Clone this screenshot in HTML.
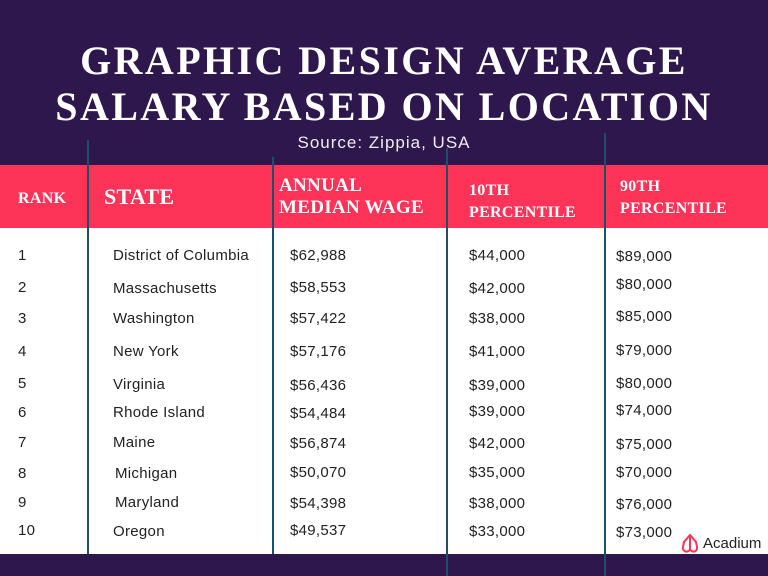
<!DOCTYPE html>
<html><head><style>
body{margin:0;width:768px;height:576px;overflow:hidden;background:#fff;position:relative;font-family:"Liberation Sans",sans-serif}
.a{position:absolute}
.t{color:#fff;font-family:"Liberation Serif",serif;font-weight:bold;font-size:40px;letter-spacing:2.4px;width:768px;text-align:center;white-space:nowrap}
.h{color:#fff;font-family:"Liberation Serif",serif;font-weight:bold;white-space:nowrap;letter-spacing:0.3px}
.c{font-size:15px;color:#222;letter-spacing:0.3px;white-space:nowrap}
.v{position:absolute;width:2px;background:#1d4f6b}
</style></head><body>
<div class="a" style="left:0;top:0;width:768px;height:165px;background:#2e174c"></div>
<div class="a" style="left:0;top:165px;width:768px;height:63px;background:#fe3358"></div>
<div class="a" style="left:0;top:554px;width:768px;height:22px;background:#2e174c"></div>
<div class="a t" style="top:37px">GRAPHIC DESIGN AVERAGE</div>
<div class="a t" style="top:83px">SALARY BASED ON LOCATION</div>
<div class="a" style="left:0;width:768px;text-align:center;top:133px;color:#eee;font-size:17px;letter-spacing:1px">Source: Zippia, USA</div>
<div class="v" style="left:87px;top:140px;height:414px"></div>
<div class="v" style="left:272px;top:157px;height:397px"></div>
<div class="v" style="left:446px;top:148px;height:428px"></div>
<div class="v" style="left:604px;top:133px;height:443px"></div>
<div class="a h" style="left:18px;top:190px;font-size:16px">RANK</div>
<div class="a h" style="left:104px;top:184px;font-size:22px">STATE</div>
<div class="a h" style="left:279px;top:175px;font-size:19px;line-height:22px">ANNUAL<br>MEDIAN WAGE</div>
<div class="a h" style="left:469px;top:180px;font-size:16px;line-height:22px">10TH<br>PERCENTILE</div>
<div class="a h" style="left:620px;top:176px;font-size:16px;line-height:22px">90TH<br>PERCENTILE</div>
<div class="a c" style="left:18px;top:247px">1</div><div class="a c" style="left:113px;top:247px">District of Columbia</div><div class="a c" style="left:290px;top:247px">$62,988</div><div class="a c" style="left:469px;top:247px">$44,000</div><div class="a c" style="left:616px;top:248px">$89,000</div>
<div class="a c" style="left:18px;top:279px">2</div><div class="a c" style="left:113px;top:280px">Massachusetts</div><div class="a c" style="left:290px;top:279px">$58,553</div><div class="a c" style="left:469px;top:280px">$42,000</div><div class="a c" style="left:616px;top:276px">$80,000</div>
<div class="a c" style="left:18px;top:310px">3</div><div class="a c" style="left:113px;top:310px">Washington</div><div class="a c" style="left:290px;top:310px">$57,422</div><div class="a c" style="left:469px;top:310px">$38,000</div><div class="a c" style="left:616px;top:308px">$85,000</div>
<div class="a c" style="left:18px;top:343px">4</div><div class="a c" style="left:113px;top:343px">New York</div><div class="a c" style="left:290px;top:343px">$57,176</div><div class="a c" style="left:469px;top:343px">$41,000</div><div class="a c" style="left:616px;top:342px">$79,000</div>
<div class="a c" style="left:18px;top:375px">5</div><div class="a c" style="left:113px;top:376px">Virginia</div><div class="a c" style="left:290px;top:377px">$56,436</div><div class="a c" style="left:469px;top:377px">$39,000</div><div class="a c" style="left:616px;top:375px">$80,000</div>
<div class="a c" style="left:18px;top:404px">6</div><div class="a c" style="left:113px;top:404px">Rhode Island</div><div class="a c" style="left:290px;top:405px">$54,484</div><div class="a c" style="left:469px;top:403px">$39,000</div><div class="a c" style="left:616px;top:402px">$74,000</div>
<div class="a c" style="left:18px;top:434px">7</div><div class="a c" style="left:113px;top:434px">Maine</div><div class="a c" style="left:290px;top:435px">$56,874</div><div class="a c" style="left:469px;top:435px">$42,000</div><div class="a c" style="left:616px;top:436px">$75,000</div>
<div class="a c" style="left:18px;top:465px">8</div><div class="a c" style="left:115px;top:465px">Michigan</div><div class="a c" style="left:290px;top:464px">$50,070</div><div class="a c" style="left:469px;top:464px">$35,000</div><div class="a c" style="left:616px;top:464px">$70,000</div>
<div class="a c" style="left:18px;top:494px">9</div><div class="a c" style="left:115px;top:494px">Maryland</div><div class="a c" style="left:290px;top:495px">$54,398</div><div class="a c" style="left:469px;top:495px">$38,000</div><div class="a c" style="left:616px;top:496px">$76,000</div>
<div class="a c" style="left:18px;top:522px">10</div><div class="a c" style="left:113px;top:523px">Oregon</div><div class="a c" style="left:290px;top:522px">$49,537</div><div class="a c" style="left:469px;top:523px">$33,000</div><div class="a c" style="left:616px;top:524px">$73,000</div>
<svg class="a" style="left:680px;top:533px" width="20" height="20" viewBox="0 0 20 20"><path d="M10 2 L16 9 L17 14 A3 3 0 0 1 10 16 A3 3 0 0 1 3 14 L4 9 Z M10 2 L10 16" fill="none" stroke="#fe3358" stroke-width="2"/></svg>
<div class="a" style="left:703px;top:535px;font-size:15px;color:#222">Acadium</div>
</body></html>
